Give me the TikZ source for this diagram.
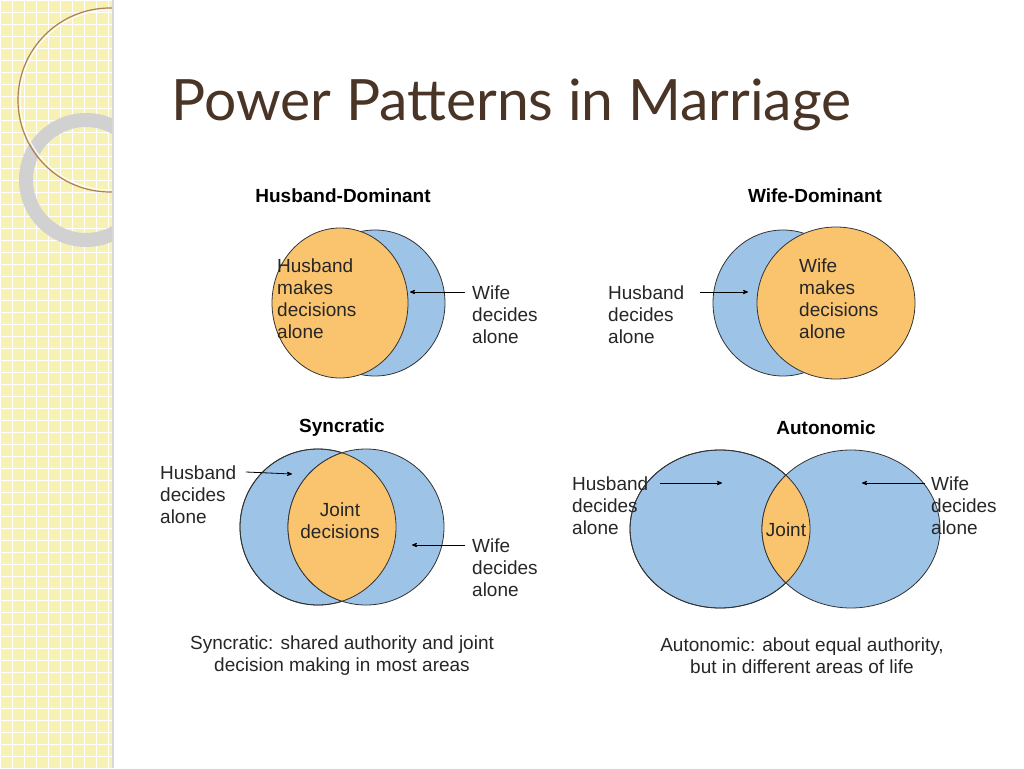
\documentclass[tikz,border=0pt]{standalone}
\usepackage{fontspec}
\setmainfont{Liberation Sans}
\newfontfamily\titlefont{Lato}
\usetikzlibrary{arrows}
\definecolor{pale}{HTML}{F8F1B4}
\definecolor{wifeblue}{HTML}{9DC3E6}
\definecolor{husborange}{HTML}{FAC46E}
\definecolor{titlebrown}{HTML}{4A3426}
\tikzstyle{blob} = [draw=black!80, line width=0.8pt]
\tikzstyle{lbl} = [align=left, anchor=west, font=\fontsize{19}{22}\selectfont, text=black!85, inner sep=0pt]
\tikzstyle{head} = [font=\fontsize{19}{22}\selectfont\bfseries]
\tikzstyle{arrow} = [thick,->,>=stealth']

\begin{document}
\begin{tikzpicture}[x=1pt, y=-1pt]
	\useasboundingbox (0,0) rectangle (1024,768);
	% side strip
	\fill[pale] (0,0) rectangle (112,768);
	\foreach \i in {0,12,...,768} \draw[white, line width=0.8pt] (0,\i) -- (112,\i);
	\foreach \i in {0,12,...,108} \draw[white, line width=0.8pt] (\i,0) -- (\i,768);
	\begin{scope}
		\clip (0,0) rectangle (112,768);
		\draw[black!18, line width=14pt] (86,180) circle (60);
		\draw[brown!70!gray, line width=1.2pt] (110,100) circle (92);
		\draw[white, line width=1pt] (110,100) circle (90);
	\end{scope}
	\draw[black!15, line width=2pt] (113,0) -- (113,768);
	\node (title) [anchor=base west, text=titlebrown, font=\titlefont\fontsize{57}{62}\selectfont] at (168,120) {Power Patterns in Marriage};

	% husband-dominant
	\node (hdhead) [head] at (343,196) {Husband-Dominant};
	\filldraw[blob, fill=wifeblue] (375,303) ellipse (70 and 73);
	\filldraw[blob, fill=husborange] (340,303) ellipse (68 and 75);
	\node (hdh) [lbl] at (277,299) {Husband\\makes\\decisions\\alone};
	\node (hdw) [lbl] at (472,315) {Wife\\decides\\alone};
	\coordinate (hdwtail) at (465,292);
	\coordinate (hdwtip) at (410,292);
	\draw[arrow] (hdwtail) -- (hdwtip);

	% wife-dominant
	\node (wdhead) [head] at (815,196) {Wife-Dominant};
	\filldraw[blob, fill=wifeblue] (783,303) ellipse (70 and 73);
	\filldraw[blob, fill=husborange] (836,303) ellipse (79 and 76);
	\node (wdw) [lbl] at (799,299) {Wife\\makes\\decisions\\alone};
	\node (wdh) [lbl] at (608,315) {Husband\\decides\\alone};
	\coordinate (wdhtail) at (700,292);
	\coordinate (wdhtip) at (748,292);
	\draw[arrow] (wdhtail) -- (wdhtip);

	% syncratic
	\node (syhead) [head] at (342,428) {Syncratic};
	\filldraw[blob, fill=wifeblue] (318,527) ellipse (78 and 78);
	\filldraw[blob, fill=wifeblue] (366,527) ellipse (78 and 78);
	\begin{scope}
		\clip (318,527) ellipse (78 and 78);
		\filldraw[blob, fill=husborange] (366,527) ellipse (78 and 78);
	\end{scope}
	\draw[blob] (318,527) ellipse (78 and 78);
	\node (syj) [lbl, align=center, anchor=center] at (340,521) {Joint\\decisions};
	\node (syh) [lbl] at (160,495) {Husband\\decides\\alone};
	\node (syw) [lbl] at (472,568) {Wife\\decides\\alone};
	\coordinate (syhtail) at (246,472);
	\coordinate (syhtip) at (292,474);
	\coordinate (sywtail) at (465,545);
	\coordinate (sywtip) at (412,545);
	\draw[arrow] (syhtail) -- (syhtip);
	\draw[arrow] (sywtail) -- (sywtip);
	\node (sycap) [align=center, font=\fontsize{19}{22}\selectfont, text=black!85] at (342,656) {Syncratic: shared authority and joint\\decision making in most areas};

	% autonomic
	\node (auhead) [head] at (826,428) {Autonomic};
	\filldraw[blob, fill=wifeblue] (720,529) ellipse (90 and 79);
	\filldraw[blob, fill=wifeblue] (851,529) ellipse (89 and 79);
	\begin{scope}
		\clip (720,529) ellipse (90 and 79);
		\filldraw[blob, fill=husborange] (851,529) ellipse (89 and 79);
	\end{scope}
	\draw[blob] (720,529) ellipse (90 and 79);
	\node (auj) [lbl, anchor=center] at (786,530) {Joint};
	\node (auh) [lbl] at (572,506) {Husband\\decides\\alone};
	\node (auw) [lbl] at (931,506) {Wife\\decides\\alone};
	\coordinate (auhtail) at (660,483);
	\coordinate (auhtip) at (722,483);
	\coordinate (auwtail) at (925,483);
	\coordinate (auwtip) at (862,483);
	\draw[arrow] (auhtail) -- (auhtip);
	\draw[arrow] (auwtail) -- (auwtip);
	\node (aucap) [align=center, font=\fontsize{19}{22}\selectfont, text=black!85] at (802,656) {Autonomic: about equal authority,\\but in different areas of life};
\end{tikzpicture}
\end{document}
